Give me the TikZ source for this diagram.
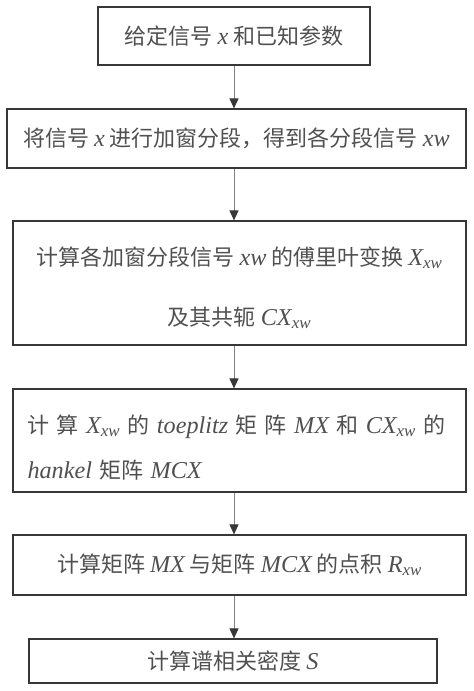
\documentclass[tikz,border=0pt]{standalone}
\usepackage{fontspec}
\setmainfont{Liberation Serif}[Scale=1.1]
\newfontfamily\cjk{Noto Sans CJK SC}
\usepackage{tikz}
\usetikzlibrary{arrows.meta, positioning}

\definecolor{boxline}{RGB}{55,55,55}
\definecolor{boxtext}{RGB}{80,80,80}
\definecolor{arrline}{RGB}{130,130,130}
\newcommand{\va}[1]{{\rmfamily\itshape #1}}
\newcommand{\vsub}[1]{\textsubscript{\rmfamily\itshape #1}}

\begin{document}
\begin{tikzpicture}[x=1pt, y=-1pt,
    proc/.style={draw=boxline, line width=1.2pt, inner sep=0pt, align=center,
                 text=boxtext, font=\cjk\fontsize{22}{26}\selectfont},
    arr/.style={-{Triangle[width=9pt,length=10pt,color=boxline]}, draw=arrline, line width=1pt}
]
\useasboundingbox (0,0) rectangle (474,691);

\node[proc, minimum width=272pt, minimum height=58pt]  (s1) at (234, 36)   {给定信号 \va{x} 和已知参数};
\node[proc, minimum width=459pt, minimum height=59pt]  (s2) at (236.5,138.5) {将信号 \va{x} 进行加窗分段，得到各分段信号 \va{xw}};
\node[proc, minimum width=453pt, minimum height=124pt,
      font=\cjk\fontsize{22}{60}\selectfont]           (s3) at (239.5,283) {\rule{0pt}{29pt}计算各加窗分段信号 \va{xw} 的傅里叶变换 \va{X}\vsub{xw}\\及其共轭 \va{CX}\vsub{xw}};
\node[proc, minimum height=103pt, text width=424pt, inner xsep=14.5pt, align=left,
      font=\cjk\fontsize{22}{45}\selectfont]           (s4) at (239.5,440.5) {\rule{0pt}{33pt}\makebox[\linewidth][s]{计 算 \va{X}\vsub{xw} 的 \va{toeplitz} 矩 阵 \va{MX} 和 \va{CX}\vsub{xw} 的}\\\va{hankel} 矩阵 \va{MCX}};
\node[proc, minimum width=453pt, minimum height=60pt]  (s5) at (239.5,565) {计算矩阵 \va{MX} 与矩阵 \va{MCX} 的点积 \va{R}\vsub{xw}};
\node[proc, minimum width=408pt, minimum height=44pt]  (s6) at (233, 661)  {计算谱相关密度 \va{S}};

\draw[arr] (s1.south) -- (s2.north -| s1.south);
\draw[arr] (s2.south -| s1.south) -- (s3.north -| s1.south);
\draw[arr] (s3.south -| s1.south) -- (s4.north -| s1.south);
\draw[arr] (s4.south -| s1.south) -- (s5.north -| s1.south);
\draw[arr] (s5.south -| s1.south) -- (s6.north -| s1.south);
\end{tikzpicture}
\end{document}
